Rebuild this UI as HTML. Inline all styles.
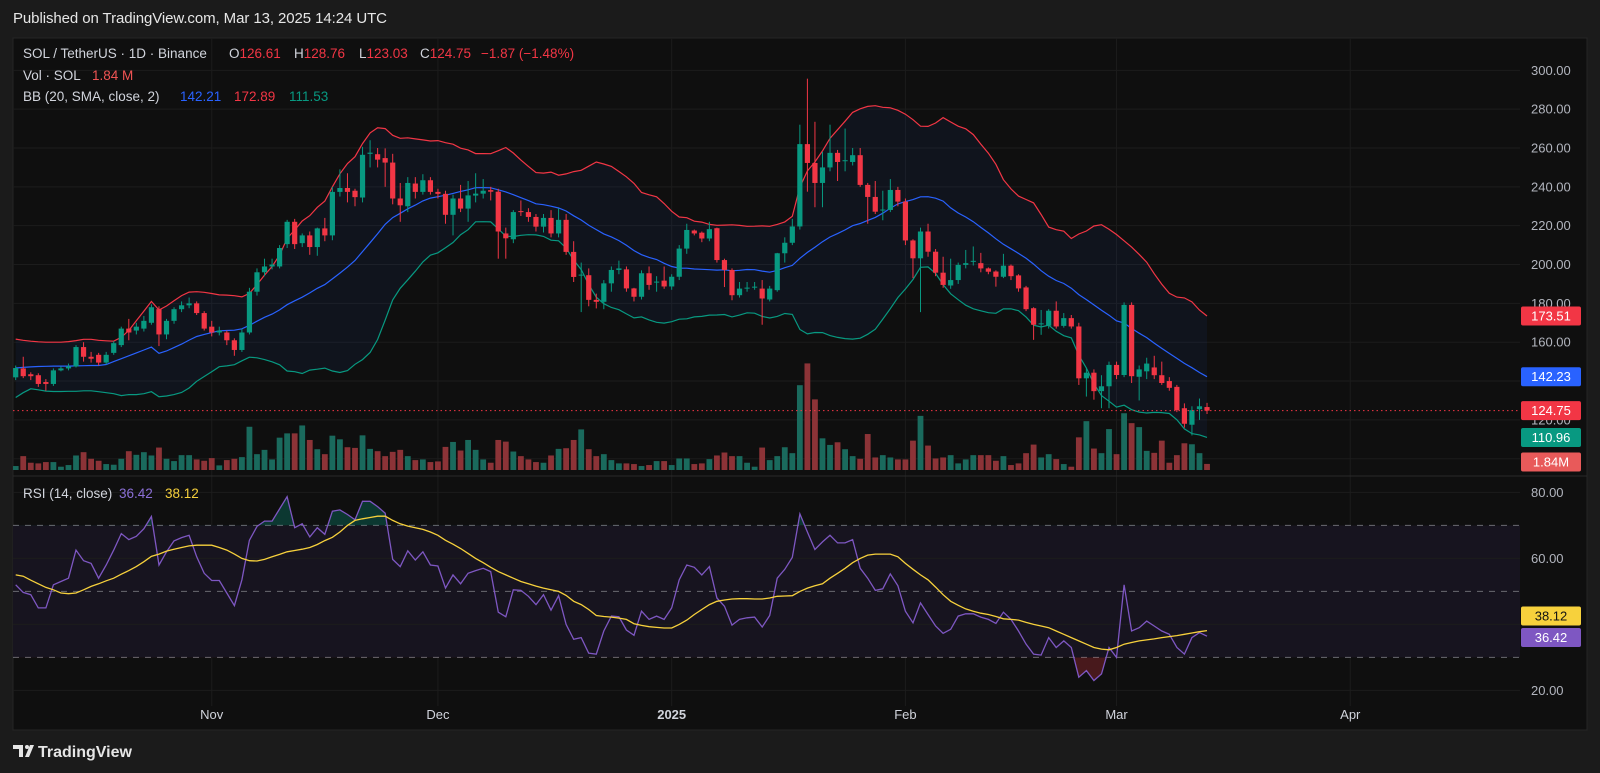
<!DOCTYPE html>
<html><head><meta charset="utf-8"><title>SOL / TetherUS 1D chart</title>
<style>
html,body{margin:0;padding:0;background:#1b1b1b;width:1600px;height:773px;overflow:hidden}
svg{display:block;font-family:"Liberation Sans",sans-serif}
</style></head>
<body>
<svg id="chart" width="1600" height="773" viewBox="0 0 1600 773" xmlns="http://www.w3.org/2000/svg">
<defs>
<clipPath id="priceClip"><rect x="13" y="38" width="1507" height="438"/></clipPath>
<clipPath id="rsiClip"><rect x="13" y="477" width="1507" height="229"/></clipPath>
<clipPath id="obClip"><rect x="13" y="477" width="1507" height="48.4"/></clipPath>
<clipPath id="osClip"><rect x="13" y="657.4" width="1507" height="50"/></clipPath>
</defs>
<rect x="0" y="0" width="1600" height="773" fill="#1b1b1b"/>
<text x="13" y="23" fill="#e6e6e6" font-size="15" textLength="374">Published on TradingView.com, Mar 13, 2025 14:24 UTC</text>
<rect x="13" y="38" width="1574" height="692" fill="#0f0f0f" stroke="#262626"/>
<g id="grid"></g>
<g id="bb" clip-path="url(#priceClip)"></g>
<g id="vol" clip-path="url(#priceClip)"></g>
<g id="candles" clip-path="url(#priceClip)"></g>
<line x1="13" x2="1520" y1="410.7" y2="410.7" stroke="#f23645" stroke-width="1" stroke-dasharray="1.5 3" id="lastLine"/>
<line x1="13" x2="1587" y1="476" y2="476" stroke="#2a2a2a"/>
<g id="rsi"></g>
<g id="axis"></g>
<g id="timeaxis"></g>
<g font-size="13.5">
<text x="23" y="58" fill="#d1d4dc">SOL / TetherUS · 1D · Binance</text>
<text x="229" y="58" fill="#d1d4dc">O<tspan fill="#f23645">126.61</tspan><tspan x="294">H</tspan><tspan fill="#f23645">128.76</tspan><tspan x="359">L</tspan><tspan fill="#f23645">123.03</tspan><tspan x="420">C</tspan><tspan fill="#f23645">124.75</tspan><tspan x="481" fill="#f23645">−1.87 (−1.48%)</tspan></text>
<text x="23" y="80" fill="#d1d4dc">Vol · SOL <tspan x="92" fill="#f05454">1.84 M</tspan></text>
<text x="23" y="101" fill="#d1d4dc">BB (20, SMA, close, 2) <tspan x="180" fill="#2962ff">142.21</tspan><tspan x="234" fill="#f23645">172.89</tspan><tspan x="289" fill="#089981">111.53</tspan></text>
<text x="23" y="498" fill="#d1d4dc">RSI (14, close) <tspan x="119" fill="#8b6fd6">36.42</tspan><tspan x="165" fill="#f7d13c">38.12</tspan></text>
</g>
<g>
<path d="M13 745 h10 v12 h-4 v-8 h-6 z M25 757 l5 -12 h4 l-5 12 z" fill="#e6e6e6"/>
<circle cx="27" cy="747" r="2" fill="#e6e6e6"/>
<text x="38" y="757" fill="#e6e6e6" font-size="16" font-weight="bold">TradingView</text>
</g>
</svg>
<script>
const opens=[141.9,146.5,143.5,143,139.5,138.5,145.5,146.5,147.5,157.5,152.5,153.5,149.5,154.5,158.5,167,166,167,170,177,164,171,177,179,180,175,168,165,165,161,156,165,186,196,199,199,210.5,222,211,215,209,218.6,215,237.4,239.4,238,234.5,257,256.8,254.8,252.5,234,230,241.7,237.4,243.4,237.4,236.4,225.6,234,228.8,235.5,236.5,238.3,237.5,216,213,227.5,227,224.5,219.5,224,216,223,206.5,194.3,194.5,181.8,180.8,190.3,197.2,197.5,187.7,183.4,195.5,190.7,191.7,188.7,193.7,208.2,217.5,216.4,213.4,218.7,202.3,197.2,184.2,187.6,188.1,187.6,182,186.8,205.8,211.2,219.6,262,252.3,242,250,257.5,253.4,252.8,256.3,241,234.8,227.8,228.1,238.4,232.4,212.4,203.2,217,206.6,195.8,189.2,192,199.8,201.4,200.7,198,196.4,193.7,199.4,194.4,188.2,177.5,169.2,168.5,176.2,168.4,172.4,168.1,141.4,144.3,134.8,137.3,148.3,143.1,179.2,142.2,145,147,143,140,137,126,117.5,125.5,126.61];
const highs=[148,152.5,144.5,144,141,146.5,147.5,149,158.5,160,155,154.5,155,160.5,168,172,170,173.5,179.5,178.5,172,178,181,183,181,176,171,168,166,162,167,188,198,203,203,210,223,223.5,216,217,219,224,240,249,247,239,260.6,264,260,259.8,257,242,245,245,246.5,245,239,238,236,241,243,247,244,240,239,219,228,233,229,226,226,228,229,226,212,201,198,185,192,199,202,199,188,197,199,194,199,195,210,221,218,217,222,219,203,198,191,191,191,192,189,206,214,223.5,272,295.7,273.5,258,272,259,270,260,260,242,243,238,244,240,234,213,219,221,208,204,203,201,207.5,209.3,206,198.5,197,205.5,200,195,189,178,176.6,177,181,175,174,170,147,146,143,150,150,180.5,180.5,148,152,153,150,142,138,128.5,127,131,128.76];
const lows=[140.5,141.5,140.5,137,135,137.5,145,145.5,147,150,149.5,148,148.5,153.5,157.5,161,164,165.5,169,158,161.5,169.5,175.5,177.5,174,166,163,163.5,158.5,153,155,164,184,194,197.5,198,208.5,208,209,205,204.5,212,212.5,235,232,230,232,250,250,240,231,222,227,234,236,236,234,221,215,227,222,232,234,233,203,203,211,225,222,217,216.5,214,214,205,191,175.5,178.5,177.4,177,186,195,186,181,182,187,186,187.5,187,192,205.5,215,211.5,212,201,188.4,181.6,183,186,187,169,181,186,201,210,218,237.5,229.5,229.5,248,243,248,251,240,221,226,222.8,227,230,210,193,175.5,204,194,188,187.5,190,198,199.5,196,195,188.6,193,192,186,176,161.2,163.8,167,167,167.5,167,138,132,130.4,126,126,141,142,139,130,141,141,138,135,124,116,112,120,123.03];
const closes=[146.7,142.5,142.5,138.5,138.5,145.5,146.5,147.5,157.5,152.5,151.5,149.5,153.5,159.5,167,165,168,171,178,164,171,177,179,180,175,167,165,166,161,156,165,186,196,199,200,208.5,222,210.5,215,209,218.6,215,237.4,239.4,237.4,234.7,256.5,257.6,254,252.5,234,230.5,242,237.4,243.4,237.4,236.4,225.6,234,228.8,235.6,236.5,238,237.5,217,213.5,227,227,224.5,219.5,224,216,223,206.5,193.6,194.8,181.8,180.8,190.3,197.2,198,187.7,183.4,195.5,189.5,191.2,188.7,193.7,208.2,217.8,216,213.4,218.2,202.3,197.2,184.2,187.6,188.1,188.6,182.5,187.6,205.8,211.2,219.6,262,252.3,242,250,257.5,252.8,253.7,256.3,241,234.8,227.2,228.3,238.4,232.4,212.4,203.2,217,206.6,195.8,189.5,192,199.8,200.7,201.9,198,196.3,193.7,199.4,194,187.7,177,169,169.7,176.2,168.1,172.4,168.1,141.4,144.3,134.8,137.3,148.3,143.1,179.2,142.5,146,149,143,139,136.5,125,118,125,127,124.75];
const volumes=[1.2,4.2,2.2,2.0,2.4,2.4,1.0,1.5,4.4,5.4,3.4,2.8,1.8,1.6,3.4,5.7,4.6,5.4,4.4,6.8,3.4,2.7,4.5,4.5,3.2,2.8,3.6,1.4,3.0,3.4,3.9,13.1,4.8,6.1,3.2,9.8,11.1,11.1,13.5,9.1,6.3,4.8,10.4,9.3,6.9,6.7,10.5,6.4,5.7,4.2,5.5,6.1,4.2,3.0,3.2,2.4,2.6,7.0,8.5,5.9,9.1,6.1,3.2,2.2,9.1,8.6,5.6,4.2,3.2,2.4,2.2,4.4,6.4,6.6,9.1,12.3,6.3,4.2,4.8,3.0,2.0,2.0,1.8,1.2,1.5,2.7,2.7,1.5,3.5,3.5,1.8,2.0,3.3,4.4,5.3,4.2,4.2,2.2,1.0,6.8,3.0,4.2,6.9,5.1,25.7,32.3,21.4,9.6,7.6,8.4,6.3,4.2,3.4,10.9,3.8,4.5,3.8,3.2,3.2,8.9,16.4,7.4,3.5,3.8,4.5,2.0,3.2,4.5,4.5,4.5,2.8,4.2,1.5,2.0,5.1,7.7,3.8,4.8,3.3,1.8,1.0,9.9,14.8,6.5,5.1,12.4,4.8,17.2,14.2,13.0,5.8,5.2,8.9,2.2,4.5,8.1,7.8,5.1,1.84];
const rsiValues=[52,49.7,49,45,45,52,53,54,62.5,59.3,58.5,54,58,62.5,67.5,65.7,66.7,69,72.7,58,62,65.3,66.3,67,60.5,55.5,53.3,53.3,49.5,45.7,53.5,65.5,69.7,71.3,71.3,75,78.7,69.3,70.5,66.5,69.3,67.3,74.3,74.7,73.3,71.7,77.3,77.3,75.7,73.7,59.7,57.5,62.3,59.5,62,58,57.7,51,55,52.3,55.5,56.3,57,56,43.7,42.3,50.5,50.3,48.5,46,49,44.3,48.7,40,35.5,36,31.3,31,38,42.5,42.3,38.3,36.7,44,41.5,42.5,41.5,45,53.5,58,57.3,55,57.5,48,45.5,39.8,41.5,42,42.2,39.2,42.7,54,56.7,60.3,73.5,68,62.7,65,67,64.7,64.7,65.7,57,54,50.3,50.8,55.3,51.7,44,40.5,46.5,43,39.5,37.3,38.5,42.5,43.2,43.2,42.2,41.5,40.3,43.7,41.5,38,34,31,30.7,36,33,35,33,24,26,23,25,33,30,52,38,39,41,39.5,38,37,33,31,36,37.5,36.42];
const rsiMaValues=[55,54.6,53.4,52.3,51.2,50.5,49.5,49.3,49.5,50.5,51.5,52.3,53.2,54,55.2,56.3,57.5,59,60.6,61.3,62.2,62.8,63.3,63.8,64,64,64,63.3,62.5,61.3,60,59.3,59.2,59.7,60.5,61.2,62,62.4,62.8,63.3,64.2,65.4,66.4,68,70,71.5,72,72.4,72.8,72.8,71.5,70.5,69.8,69.3,68.8,68,67,65.5,64.3,63,61.5,60,58.7,57.3,56,55,54,53,52.3,51.6,51,50.5,50,48.8,47,46,44.5,42.7,42.4,42.2,41.9,41.5,40.2,39.7,39.3,39.1,38.9,38.9,40,41.3,43,44.5,46,47,47.4,47.7,47.8,47.8,47.7,47.7,48,48.5,48.6,48.7,50,51,51.7,52.3,54,55.5,57,58.7,60,61,61.3,61.3,61.3,60.5,58.5,56.7,55,53.5,51.3,49,47,45.8,44.7,44,43.4,43,42.4,41.7,41.5,41.3,40.6,40,39.5,39,38,37,36,35,34,33,32.5,32.3,33,34,34.5,35,35.3,35.6,36,36.3,36.6,37,37.4,37.8,38.12];
const bbBasisEarly=[146.7,147,147.3,147.5,147.6,147.7,147.7,147.7,147.8,147.9,148,148,148.5,150,151.5,153,154.5,156,157.5];
const bbUpperEarly=[161.6,161,160.5,160.2,160,160,160,160.3,160.8,161.5,161.5,161,160.7,160.5,162.5,166,171,176,181];
const bbLowerEarly=[131.5,134,136,135.5,134.8,134.6,134.6,134.7,134.7,135,135,134.5,134,133.5,132.5,133,133,133.5,134.5];
const priceTicks=[300,280,260,240,220,200,180,160,140,120];
const rsiTicks=[80,60,40,20];
const rsiLevels=[70,50,30];
const monthLabels=['Nov','Dec','2025','Feb','Mar','Apr'];
const monthIndex=[26,56,87,118,146,177];

const NS='http://www.w3.org/2000/svg';
const xi=i=>15.7+7.54*i;
const py=p=>342.2-(p-160)*1.942;
const vy=v=>470-v*3.3;
const ry=r=>492.4+(80-r)*3.3;
function mk(tag,attrs,parent){const e=document.createElementNS(NS,tag);for(const k in attrs)e.setAttribute(k,attrs[k]);parent.appendChild(e);return e;}
const G=id=>document.getElementById(id);

// grid
const grid=G('grid');
priceTicks.concat([100]).forEach(p=>{const l=mk('line',{x1:13,x2:1520,y1:py(p),y2:py(p),stroke:'#1c1c1c'},grid);

});
monthIndex.forEach(i=>{const l=mk('line',{x1:xi(i),x2:xi(i),y1:38,y2:706,stroke:'#1c1c1c'},grid);

});

// BB
const bbU=[],bbB=[],bbL=[];
for(let i=0;i<closes.length;i++){
  if(i<19){bbU.push(bbUpperEarly[i]);bbB.push(bbBasisEarly[i]);bbL.push(bbLowerEarly[i]);continue;}
  let s=0;for(let k=i-19;k<=i;k++)s+=closes[k];const m=s/20;
  let v=0;for(let k=i-19;k<=i;k++)v+=(closes[k]-m)**2;const sd=Math.sqrt(v/20);
  bbB.push(m);bbU.push(m+2*sd);bbL.push(m-2*sd);
}
const bb=G('bb');
const ptsU=bbU.map((v,i)=>xi(i).toFixed(1)+','+py(v).toFixed(1));
const ptsL=bbL.map((v,i)=>xi(i).toFixed(1)+','+py(v).toFixed(1));
const fill=mk('polygon',{points:ptsU.concat(ptsL.slice().reverse()).join(' '),fill:'rgba(41,98,255,0.06)'},bb);


const lu=mk('polyline',{points:ptsU.join(' '),fill:'none',stroke:'#f23645','stroke-width':1.2},bb);


const lb=mk('polyline',{points:bbB.map((v,i)=>xi(i).toFixed(1)+','+py(v).toFixed(1)).join(' '),fill:'none',stroke:'#2962ff','stroke-width':1.2},bb);


const ll=mk('polyline',{points:ptsL.join(' '),fill:'none',stroke:'#089981','stroke-width':1.2},bb);



// volume
const vol=G('vol');
volumes.forEach((v,i)=>{const up=closes[i]>=opens[i];
  const r=mk('rect',{x:xi(i)-2.9,y:vy(v),width:5.8,height:470-vy(v),fill:up?'#1a6a5d':'#8c3337'},vol);
  
  });

// candles
const cg=G('candles');
closes.forEach((c,i)=>{const o=opens[i],up=c>=o,col=up?'#089981':'#f23645';
  const g=mk('g',{},cg);
  
  
  mk('line',{x1:xi(i),x2:xi(i),y1:py(highs[i]),y2:py(lows[i]),stroke:col,'stroke-width':1},g);
  const t=py(Math.max(o,c)),b=py(Math.min(o,c));
  mk('rect',{x:xi(i)-2.6,y:t,width:5.2,height:Math.max(1,b-t),fill:col},g);});
G('lastLine').setAttribute('y1',py(closes[closes.length-1]));
G('lastLine').setAttribute('y2',py(closes[closes.length-1]));

// RSI pane
const rp=G('rsi');
const band=mk('rect',{x:13,y:ry(70),width:1507,height:ry(30)-ry(70),fill:'#17141f'},rp);


rsiTicks.forEach(t=>{const l=mk('line',{x1:13,x2:1520,y1:ry(t),y2:ry(t),stroke:'#1c1c1c'},rp);

});
rsiLevels.forEach(t=>{const l=mk('line',{x1:13,x2:1520,y1:ry(t),y2:ry(t),stroke:'#6a6a70','stroke-dasharray':'6 6','stroke-width':1},rp);

});
const rpts=rsiValues.map((v,i)=>xi(i).toFixed(1)+','+ry(v).toFixed(1));
const last=rsiValues.length-1;
const ob=mk('polygon',{points:xi(0)+','+ry(70)+' '+rpts.join(' ')+' '+xi(last)+','+ry(70),fill:'rgba(8,153,129,0.3)','clip-path':'url(#obClip)'},rp);


const os=mk('polygon',{points:xi(0)+','+ry(30)+' '+rpts.join(' ')+' '+xi(last)+','+ry(30),fill:'rgba(242,54,69,0.25)','clip-path':'url(#osClip)'},rp);


const rl=mk('polyline',{points:rpts.join(' '),fill:'none',stroke:'#7e57c2','stroke-width':1.3},rp);


const rm=mk('polyline',{points:rsiMaValues.map((v,i)=>xi(i).toFixed(1)+','+ry(v).toFixed(1)).join(' '),fill:'none',stroke:'#f7d13c','stroke-width':1.3},rp);



// price axis
const ax=G('axis');
priceTicks.forEach(p=>{const t=mk('text',{x:1531,y:py(p)+4.5,fill:'#b2b5be','font-size':13},ax);t.textContent=p.toFixed(2);

});
rsiTicks.filter(t=>t!==40).forEach(p=>{const t=mk('text',{x:1531,y:ry(p)+4.5,fill:'#b2b5be','font-size':13},ax);t.textContent=p.toFixed(2);

});
function tag(y,label,bg,fg,name){const g=mk('g',{},ax);
  
  
  mk('rect',{x:1521,y:y-9.5,width:60,height:19,rx:2,fill:bg},g);
  const t=mk('text',{x:1551,y:y+4.5,fill:fg,'font-size':13,'text-anchor':'middle'},g);t.textContent=label;}
const n=closes.length-1;
tag(py(bbU[n]),bbU[n].toFixed(2),'#f23645','#fff','bb-upper-tag');
tag(py(bbB[n]),bbB[n].toFixed(2),'#2962ff','#fff','bb-basis-tag');
tag(py(closes[n]),closes[n].toFixed(2),'#f23645','#fff','last-price-tag');
tag(py(bbL[n]),bbL[n].toFixed(2),'#089981','#fff','bb-lower-tag');
tag(462,volumes[n].toFixed(2)+'M','#e85a5a','#fff','volume-tag');
tag(616,rsiMaValues[last].toFixed(2),'#f7d13c','#131313','rsi-ma-tag');
tag(637.5,rsiValues[last].toFixed(2),'#7e57c2','#fff','rsi-tag');

// time axis
const ta=G('timeaxis');
monthLabels.forEach((m,k)=>{const t=mk('text',{x:xi(monthIndex[k]),y:719,fill:'#d1d4dc','font-size':13,'text-anchor':'middle','font-weight':m==='2025'?'bold':'normal'},ta);t.textContent=m;

});
</script>
</body></html>
